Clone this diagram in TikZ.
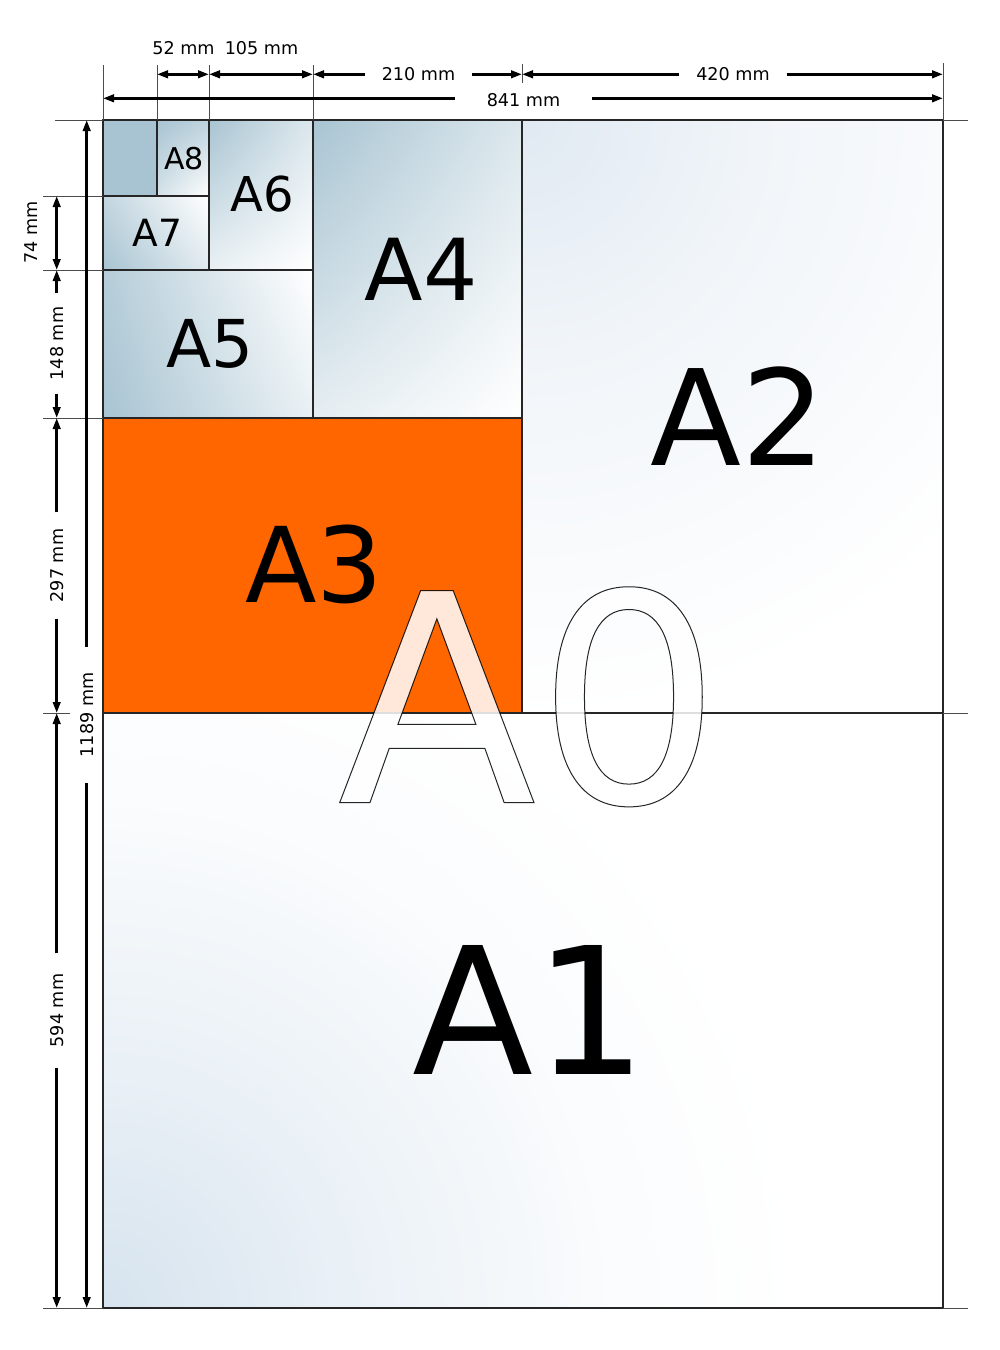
\documentclass[tikz,border=0pt]{standalone}
\usepackage{fontspec}
\setmainfont{DejaVu Sans}
\usetikzlibrary{arrows.meta,shadings}
\definecolor{pblue}{RGB}{168,196,210}
\definecolor{aorange}{RGB}{255,102,0}
\definecolor{aonec}{RGB}{214,227,238}
\definecolor{atwoc}{RGB}{224,233,242}
\pgfdeclareradialshading{aonefade}{\pgfpointorigin}{color(0bp)=(aonec); color(8bp)=(aonec!55!white); color(18bp)=(aonec!12!white); color(25bp)=(white); color(50bp)=(white)}
\pgfdeclareradialshading{atwofade}{\pgfpointorigin}{color(0bp)=(atwoc); color(10bp)=(atwoc!45!white); color(25bp)=(white); color(50bp)=(white)}
\begin{document}
\begin{tikzpicture}[x=1pt,y=-1pt,
  dimline/.style={line width=2.6pt, -{Triangle[length=11pt,width=7.5pt]}},
  dimboth/.style={line width=2.6pt, {Triangle[length=11pt,width=7.5pt]}-{Triangle[length=11pt,width=7.5pt]}},
  extline/.style={line width=1pt, draw=black!70},
  sheet/.style={draw=black!85, line width=1.1pt},
  dlab/.style={font=\fontsize{17.6}{18}\selectfont, inner ysep=0pt, outer sep=0pt, fill=white},
  biglab/.style={inner sep=0pt, font=\fontsize{#1}{#1}\selectfont},
]
\useasboundingbox (0,0) rectangle (1000,1350);
\fill[white] (0,0) rectangle (1000,1350);

% ---------- sheets ----------
\begin{scope}
  \clip (103,713) rectangle (943,1308);
  \shade[shading=aonefade] (103,1308) circle (700);
\end{scope}
\begin{scope}
  \clip (522,120) rectangle (943,713);
  \shade[shading=atwofade] (522,120) circle (600);
\end{scope}
\fill[aorange] (103,418) rectangle (522,713);
\shade[upper left=pblue, lower right=white, upper right=pblue!40!white, lower left=pblue!30!white]
  (313,120) rectangle (522,418);
\shade[upper left=pblue!85!white, lower left=pblue, upper right=white, lower right=pblue!25!white]
  (103,270) rectangle (313,418);
\shade[upper left=pblue, lower right=white, upper right=pblue!40!white, lower left=pblue!25!white]
  (209,120) rectangle (313,270);
\shade[upper left=pblue!70!white, lower left=pblue, upper right=white, lower right=pblue!35!white]
  (103,196) rectangle (209,270);
\shade[upper left=pblue, lower right=white, upper right=pblue!75!white, lower left=pblue!50!white]
  (157,120) rectangle (209,196);
\fill[pblue] (103,120) rectangle (157,196);

% ---------- sheet borders ----------
\draw[sheet] (103,120) rectangle (943,1308);
\draw[sheet] (103,713) -- (943,713);
\draw[sheet] (522,120) -- (522,713);
\draw[sheet] (103,418) -- (522,418);
\draw[sheet] (313,120) -- (313,418);
\draw[sheet] (103,270) -- (313,270);
\draw[sheet] (209,120) -- (209,270);
\draw[sheet] (103,196) -- (209,196);
\draw[sheet] (157,120) -- (157,196);

% ---------- extension lines ----------
\draw[extline] (103,65) -- (103,120);
\draw[extline] (157,65) -- (157,120);
\draw[extline] (209,65) -- (209,120);
\draw[extline] (313,65) -- (313,120);
\draw[extline] (522,64) -- (522,83);
\draw[extline] (943,63) -- (943,120);
\draw[extline] (55,120) -- (103,120);
\draw[extline] (943,120) -- (968,120);
\draw[extline] (43,196) -- (103,196);
\draw[extline] (43,270) -- (103,270);
\draw[extline] (43,418) -- (103,418);
\draw[extline] (43,713) -- (70,713);
\draw[extline] (943,713) -- (968,713);
\draw[extline] (43,1308) -- (103,1308);
\draw[extline] (943,1308) -- (968,1308);

% ---------- sheet labels ----------
\node[biglab=30]  (la8) at (184,158.8) {A8};
\node[biglab=37.5](la7) at (157.7,233.3) {A7};
\node[biglab=48]  (la6) at (262.5,194.5) {A6};
\node[biglab=66]  (la5) at (209.8,344.2) {A5};
\node[biglab=85.5](la4) at (421,269.2) {A4};
\node[biglab=104.5](la3) at (314.2,564.8) {A3};
\node[biglab=133] (la2) at (738.3,416) {A2};
\node[biglab=177] (la1) at (529.8,1010) {A1};

% ---------- top dimensions ----------
\coordinate (h157) at (157,74.3);
\coordinate (h209) at (209,74.3);
\coordinate (h313) at (313,74.3);
\coordinate (h522) at (522,74.3);
\coordinate (h943) at (943,74.3);
\coordinate (g103) at (103,98.3);
\coordinate (g943) at (943,98.3);

\draw[dimboth] (h157) -- (h209);
\draw[dimboth] (h209) -- (h313);
\node[dlab, fill=none] (l52) at (183.5,48.3) {52 mm};
\node[dlab, fill=none] (l105) at (261.5,48.3) {105 mm};

\node[dlab, inner xsep=17.2pt] (l210) at (418.5,74.3) {210 mm};
\draw[dimline] (l210) -- (h313);
\draw[dimline] (l210) -- (h522);

\node[dlab, inner xsep=16.8pt] (l420) at (733,74.3) {420 mm};
\draw[dimline] (l420) -- (h522);
\draw[dimline] (l420) -- (h943);

\node[dlab, fill=none, inner xsep=32pt] (l841) at (523.5,100) {841 mm};
\draw[dimline] (l841.west |- g103) -- (g103);
\draw[dimline] (l841.east |- g943) -- (g943);

% ---------- left dimensions ----------
\coordinate (v196) at (56.7,196);
\coordinate (v270) at (56.7,270);
\coordinate (v418) at (56.7,418);
\coordinate (v713) at (56.7,713);
\coordinate (v1308) at (56.7,1308);
\coordinate (w120) at (86.7,120);
\coordinate (w1308) at (86.7,1308);

\draw[dimboth] (v196) -- (v270);
\node[dlab, fill=none, rotate=90] (l74) at (30.8,232.5) {74 mm};

\node[dlab, rotate=90, inner xsep=13.5pt] (l148) at (56.7,343.5) {148 mm};
\draw[dimline] (l148) -- (v270);
\draw[dimline] (l148) -- (v418);

\node[dlab, rotate=90, inner xsep=16.5pt] (l297) at (56.7,565.5) {297 mm};
\draw[dimline] (l297) -- (v418);
\draw[dimline] (l297) -- (v713);

\node[dlab, rotate=90, inner xsep=20.5pt] (l594) at (56.7,1010.5) {594 mm};
\draw[dimline] (l594) -- (v713);
\draw[dimline] (l594) -- (v1308);

\node[dlab, rotate=90, inner xsep=26pt] (l1189) at (86.7,715) {1189 mm};
\draw[dimline] (l1189) -- (w120);
\draw[dimline] (l1189) -- (w1308);

% ---------- big outlined A0 ----------
\node[biglab=291, text=white, text opacity=0.85] (la0) at (529.5,696.8)
  {\special{pdf:literal direct 2 Tr 1 w 0 G}A0\special{pdf:literal direct 0 Tr}};
\end{tikzpicture}
\end{document}
